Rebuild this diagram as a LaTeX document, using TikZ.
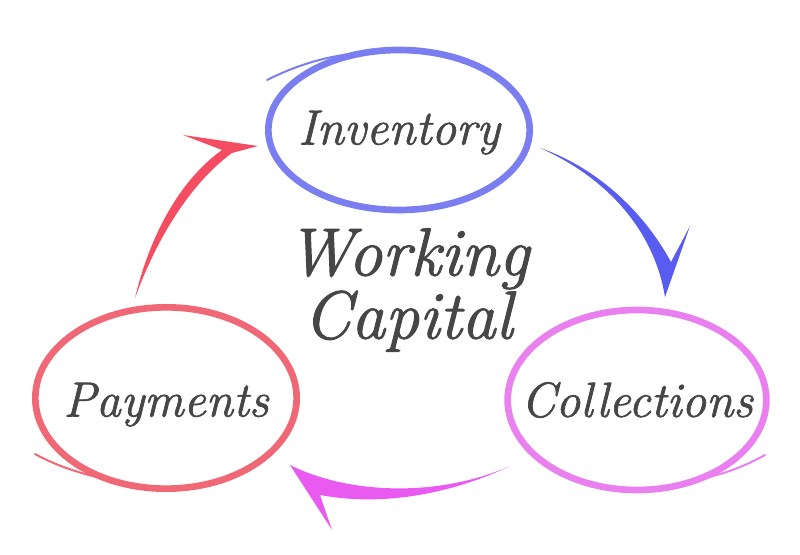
\documentclass[tikz,border=0pt]{standalone}
\usepackage{fontspec}
\usetikzlibrary{shapes.geometric}
\newfontfamily\hand{Latin Modern Roman}[FakeBold=1.4]
\definecolor{invblue}{RGB}{122,126,240}
\definecolor{arrblue}{RGB}{88,92,240}
\definecolor{colpink}{RGB}{234,128,240}
\definecolor{arrmag}{RGB}{232,90,240}
\definecolor{payred}{RGB}{240,104,118}
\definecolor{arrred}{RGB}{244,76,96}
\definecolor{txtgray}{RGB}{70,70,70}
\tikzset{
  ring/.style={ellipse, line width=5pt, inner sep=0pt},
  word/.style={text=txtgray, inner sep=0.75pt, font=\hand\fontsize{37}{40}\selectfont\itshape},
  tail/.style={line width=1.5pt, line cap=round},
}
\begin{document}
\begin{tikzpicture}[x=0.75pt,y=0.75pt,yscale=-1,xscale=1]
    \fill[white] (0,0) rectangle (800,555);
    \useasboundingbox (0,0) rectangle (800,555);
    %Shape: Ellipse [id:inv]
    \node[ring, draw=invblue, minimum width=196pt, minimum height=120pt] (inv) at (399,130) {};
    \draw[tail, invblue] (267,80) .. controls (295,66) and (325,56) .. (360,53);
    %Shape: Ellipse [id:col]
    \node[ring, draw=colpink, minimum width=194pt, minimum height=135pt] (col) at (637,400) {};
    \draw[tail, colpink] (765,455) .. controls (745,466) and (725,474) .. (700,479);
    %Shape: Ellipse [id:pay]
    \node[ring, draw=payred, minimum width=196pt, minimum height=136pt] (pay) at (166,398) {};
    \draw[tail, payred] (35,454) .. controls (55,465) and (80,474) .. (110,480);

    %Shape: Arrow [id:inv to col]
    \fill[arrblue] (540,148) .. controls (590,165) and (640,205) .. (671,262) -- (690,226) -- (665,297)
        .. controls (655,235) and (612,180) .. (540,148) -- cycle;
    %Shape: Arrow [id:col to pay]
    \fill[arrmag] (510,466) .. controls (460,490) and (390,508) .. (320,495) -- (332,530) -- (290,465)
        .. controls (350,495) and (440,497) .. (510,466) -- cycle;
    %Shape: Arrow [id:pay to inv]
    \fill[arrred] (135,298) .. controls (150,235) and (180,180) .. (222,150) -- (183,135) -- (258,146)
        -- (232,153) .. controls (195,180) and (160,230) .. (135,298) -- cycle;

    % Text Node
    \node[word] (invtxt) at ([yshift=2pt]inv.center) {Inventory};
    % Text Node
    \node[word] (coltxt) at (col.center) {Collections};
    % Text Node
    \node[word] (paytxt) at ([yshift=5pt]pay.center) {Payments};
    % Text Node
    \node[word, font=\hand\fontsize{51}{44}\selectfont\itshape, align=center] (title) at (408,290) {Working\\Capital};
\end{tikzpicture}
\end{document}
